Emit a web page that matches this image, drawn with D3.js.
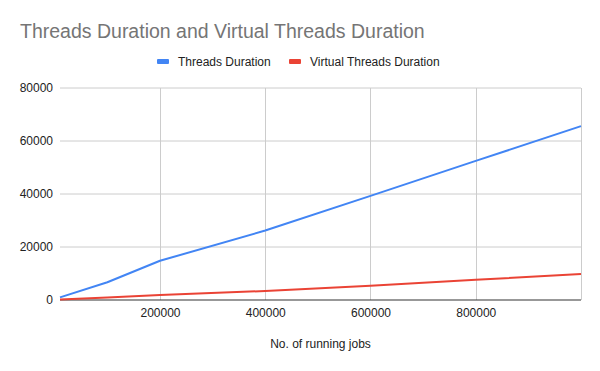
<!DOCTYPE html>
<html>
<head>
<meta charset="utf-8">
<script src="https://cdn.jsdelivr.net/npm/d3@7"></script>
<style>
    body { margin: 0; background: #fff; }
    svg { display: block; font-family: Arial, "Liberation Sans", sans-serif; }
</style>
</head>
<body>
<div id="chart"></div>
<script>
// values
const runningJobs = [10000, 100000, 200000, 400000, 600000, 800000, 1000000];
const threadsDuration = [1000, 6700, 14800, 26200, 39300, 52500, 65600];
const virtualThreadsDuration = [200, 900, 1900, 3400, 5400, 7600, 9800];
const xTicks = [200000, 400000, 600000, 800000];
const yTicks = [0, 20000, 40000, 60000, 80000];
const seriesNames = ['Threads Duration', 'Virtual Threads Duration'];
const seriesColors = ['#4285f4', '#ea4335'];

const width = 600;
const height = 371;
const margin = { top: 88, right: 19, bottom: 71, left: 60 };
const font = 'Arial, "Liberation Sans", sans-serif';

const svg = d3.select('#chart').append('svg')
    .attr('width', width)
    .attr('height', height);

const xScale = d3.scaleLinear()
    .domain([10000, 1000000])
    .range([margin.left, width - margin.right]);
const yScale = d3.scaleLinear()
    .domain([0, 80000])
    .range([height - margin.bottom, margin.top]);

// title
svg.append('text')
    .attr('x', 20)
    .attr('y', 38)
    .attr('fill', '#757575')
    .attr('font-size', '19.5px')
    .text('Threads Duration and Virtual Threads Duration');

// grid
svg.append('g')
    .selectAll('line')
    .data(yTicks.slice(1))
    .enter()
    .append('line')
    .attr('x1', margin.left)
    .attr('x2', width - margin.right)
    .attr('y1', (d) => yScale(d))
    .attr('y2', (d) => yScale(d))
    .attr('stroke', '#cccccc')
    .attr('stroke-width', 1);

svg.append('g')
    .selectAll('line')
    .data(xTicks.concat([1000000]))
    .enter()
    .append('line')
    .attr('x1', (d) => Math.round(xScale(d)) + 0.5)
    .attr('x2', (d) => Math.round(xScale(d)) + 0.5)
    .attr('y1', margin.top)
    .attr('y2', height - margin.bottom)
    .attr('stroke', '#cccccc')
    .attr('stroke-width', 1);

// y axis labels
const yAxis = svg.append('g')
    .attr('transform', `translate(${margin.left}, 0)`)
    .call(d3.axisLeft(yScale).tickValues(yTicks).tickSize(0).tickPadding(7).tickFormat(d3.format('d')));
yAxis.select('.domain').remove();
yAxis.selectAll('.tick text')
    .attr('fill', '#222')
    .attr('font-size', '12px')
    .attr('font-family', font);

// x axis labels
const xAxis = svg.append('g')
    .attr('transform', `translate(0, ${height - margin.bottom})`)
    .call(d3.axisBottom(xScale).tickValues(xTicks).tickSize(0).tickPadding(8).tickFormat(d3.format('d')));
xAxis.select('.domain').remove();
xAxis.selectAll('.tick text')
    .attr('fill', '#222')
    .attr('font-size', '12px')
    .attr('font-family', font);

// baseline
svg.append('line')
    .attr('x1', margin.left)
    .attr('x2', width - margin.right)
    .attr('y1', yScale(0))
    .attr('y2', yScale(0))
    .attr('stroke', '#333333')
    .attr('stroke-width', 1.2);

// x axis title
svg.append('text')
    .attr('x', (margin.left + width - margin.right) / 2)
    .attr('y', 348)
    .attr('text-anchor', 'middle')
    .attr('fill', '#222')
    .attr('font-size', '12px')
    .text('No. of running jobs');

// lines
const line = d3.line()
    .x((d, i) => xScale(runningJobs[i]))
    .y((d) => yScale(d));

[threadsDuration, virtualThreadsDuration].forEach((values, i) => {
    svg.append('path')
        .datum(values)
        .attr('fill', 'none')
        .attr('stroke', seriesColors[i])
        .attr('stroke-width', 2)
        .attr('stroke-linejoin', 'round')
        .attr('d', line);
});

// legend
const legendX = [157, 289];
seriesNames.forEach((name, i) => {
    svg.append('rect')
        .attr('x', legendX[i])
        .attr('y', 59)
        .attr('width', 12)
        .attr('height', 5)
        .attr('rx', 1)
        .attr('fill', seriesColors[i]);
    svg.append('text')
        .attr('x', legendX[i] + 21)
        .attr('y', 66)
        .attr('fill', '#222')
        .attr('font-size', '12px')
        .text(name);
});
</script>
</body>
</html>
